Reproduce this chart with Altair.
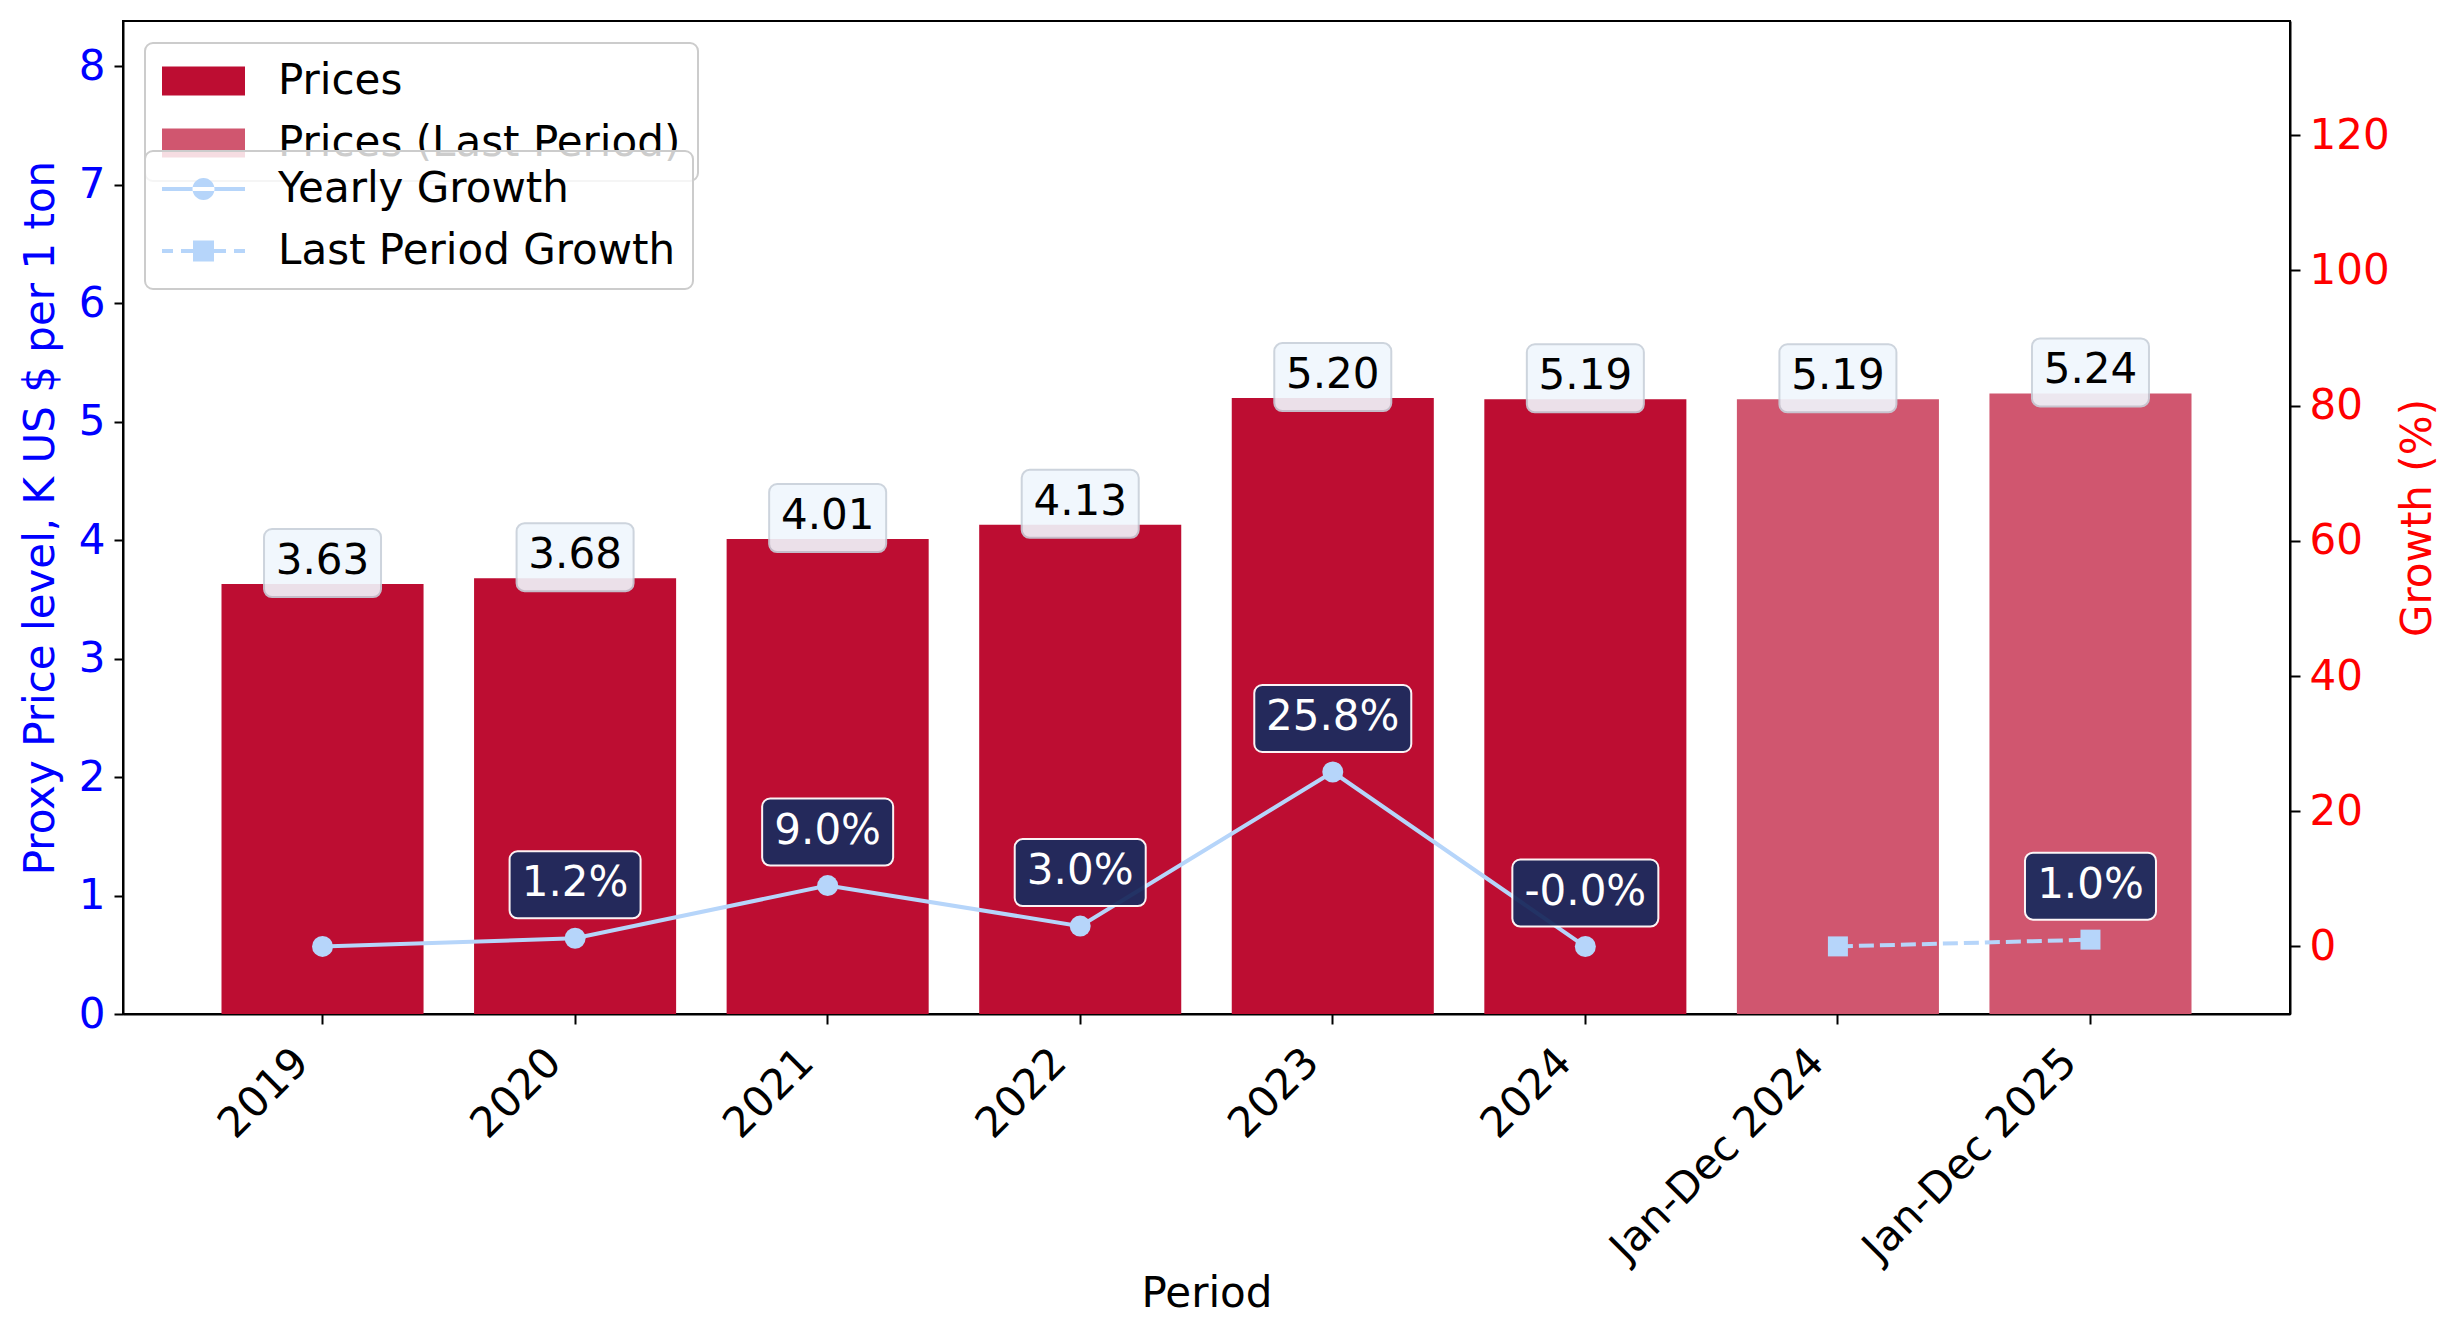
import altair as alt
import pandas as pd

# ---------------- data ----------------
periods = ["2019", "2020", "2021", "2022", "2023", "2024", "Jan-Dec 2024", "Jan-Dec 2025"]
prices = [3.63, 3.68, 4.01, 4.13, 5.20, 5.19, 5.19, 5.24]
price_types = ["Prices"] * 6 + ["Prices (Last Period)"] * 2
growth = [0.0, 1.2, 9.0, 3.0, 25.8, -0.02, 0.0, 1.0]
growth_series = ["Yearly Growth"] * 6 + ["Last Period Growth"] * 2
growth_labels = ["", "1.2%", "9.0%", "3.0%", "25.8%", "-0.0%", "", "1.0%"]

# ---------------- style ----------------
FONT = "DejaVu Sans"
FS = 42
BAR = "#BD0D32"
BAR_LAST = "#D0566F"
LINE = "#B6D5FA"
NAVY = "#1C2B5E"
W, H = 2167, 993

ADV = {"0": .636, "1": .636, "2": .636, "3": .636, "4": .636, "5": .636, "6": .636,
       "7": .636, "8": .636, "9": .636, ".": .318, "%": .950, "-": .361}


def box_w(s):
    return round(sum(ADV.get(c, .6) for c in s) * FS + 24)


# legend symbol geometry (pixels -> symbol units)
U = 20.0      # px per symbol unit (symbolSize = (2U)^2)
C = 21.0      # symbol centre within legend entry


def ux(v):
    return round((v - C) / U, 4)


def uy(v):
    return round(v / U, 4)


def rect_path(x0, x1, y0, y1):
    return f"M{ux(x0)},{uy(y0)}H{ux(x1)}V{uy(y1)}H{ux(x0)}Z"


SWATCH = rect_path(0, 83, -14.5, 14.5)
r = 11.0
circ = (f"M{ux(41.5 - r)},0A{uy(r)},{uy(r)} 0 1,0 {ux(41.5 + r)},0"
        f"A{uy(r)},{uy(r)} 0 1,0 {ux(41.5 - r)},0Z")
SYM_YEARLY = rect_path(0, 83, -2, 2) + circ
SYM_LAST = (rect_path(0, 11, -2, 2) + rect_path(19, 31.5, -2, 2) + rect_path(51.5, 64, -2, 2)
            + rect_path(72, 83, -2, 2) + rect_path(31, 52, -10.5, 10.5))

df = pd.DataFrame({
    "Period": periods,
    "Price": prices,
    "PriceType": price_types,
    "PriceLabel": [f"{p:.2f}" for p in prices],
    "Growth": growth,
    "Series": growth_series,
    "GrowthLabel": growth_labels,
})

x_enc = alt.X(
    "Period:N", sort=periods,
    scale=alt.Scale(paddingInner=0.2, paddingOuter=0.39),
    axis=alt.Axis(title="Period", labelAngle=315, labelAlign="right", labelBaseline="top",
                  labelPadding=17, labelOffset=-35, tickSize=10, labelLimit=1000,
                  labelOverlap=False, titleX=W / 2, titleY=279, titleBaseline="middle",
                  titleAlign="center"),
)

y_left = alt.Y(
    "Price:Q",
    scale=alt.Scale(domain=[0, 8.384], nice=False, zero=True),
    axis=alt.Axis(title="Proxy Price level, K US $ per 1 ton", values=list(range(9)), format="d",
                  labelColor="#0000FF", titleColor="#0000FF", labelPadding=9, tickSize=9,
                  titleX=-83, titleY=H / 2, titleAngle=270, titleBaseline="middle",
                  titleAlign="center"),
)

y_right = alt.Y(
    "Growth:Q",
    scale=alt.Scale(domain=[-10, 136.9], nice=False, zero=False),
    axis=alt.Axis(orient="right", title="Growth (%)", values=[0, 20, 40, 60, 80, 100, 120],
                  labelColor="#FF0000", titleColor="#FF0000", labelPadding=9, tickSize=10,
                  titleX=127, titleY=H / 2, titleAngle=270, titleBaseline="middle",
                  titleAlign="center"),
)

legend_common = dict(title=None, orient="none", legendX=22, labelFont=FONT, labelFontSize=FS,
                     labelColor="black", labelLimit=1000, rowPadding=20, padding=17,
                     fillColor="rgba(255,255,255,0.8)", strokeColor="#CCCCCC", cornerRadius=8,
                     symbolSize=int((2 * U) ** 2), labelOffset=74)

has_label = "isValid(datum.GrowthLabel) && length(datum.GrowthLabel) > 0"

base = alt.Chart(df)

bars = base.mark_bar().encode(
    x=x_enc, y=y_left,
    color=alt.Color("PriceType:N",
                    scale=alt.Scale(domain=["Prices", "Prices (Last Period)"], range=[BAR, BAR_LAST]),
                    legend=alt.Legend(legendY=22, symbolType=SWATCH, symbolStrokeWidth=0,
                                      **legend_common)),
)

pbox = base.mark_bar(width=box_w("0.00"), yOffset=-55, y2Offset=13, cornerRadius=8,
                     fill="#F0F7FD", stroke="#C8D0DA", strokeWidth=2, opacity=0.9).encode(
    x=x_enc, y=y_left, y2="Price:Q")

ptext = base.mark_text(font=FONT, fontSize=FS, color="black", baseline="middle", dy=-23).encode(
    x=x_enc, y=y_left, text="PriceLabel:N")

left = alt.layer(bars, pbox, ptext)

line_y = base.transform_filter(alt.datum.Series == "Yearly Growth").mark_line(
    color=LINE, strokeWidth=4).encode(x=x_enc, y=y_right)
line_l = base.transform_filter(alt.datum.Series == "Last Period Growth").mark_line(
    color=LINE, strokeWidth=4, strokeDash=[15, 6]).encode(x=x_enc, y=y_right)
pts_y = base.transform_filter(alt.datum.Series == "Yearly Growth").mark_point(
    shape="circle", filled=True, size=441, color=LINE, opacity=1).encode(x=x_enc, y=y_right)
pts_l = base.transform_filter(alt.datum.Series == "Last Period Growth").mark_point(
    shape="square", filled=True, size=400, color=LINE, opacity=1).encode(x=x_enc, y=y_right)

legend_pts = base.mark_point(filled=True, opacity=0, color=LINE, size=1).encode(
    x=x_enc, y=y_right,
    shape=alt.Shape("Series:N",
                    scale=alt.Scale(domain=["Yearly Growth", "Last Period Growth"],
                                    range=[SYM_YEARLY, SYM_LAST]),
                    legend=alt.Legend(legendY=130, symbolOpacity=1, symbolFillColor=LINE,
                                      symbolStrokeWidth=0, **legend_common)),
)

gboxes = []
labelled = [g for g in growth_labels if g]
for wv in sorted(set(box_w(g) for g in labelled)):
    group = [g for g in labelled if box_w(g) == wv]
    gboxes.append(
        base.transform_filter(alt.FieldOneOfPredicate(field="GrowthLabel", oneOf=group))
        .mark_bar(width=wv, yOffset=-87, y2Offset=-20, cornerRadius=8, fill=NAVY,
                  stroke="white", strokeWidth=2, opacity=0.95)
        .encode(x=x_enc, y=y_right, y2="Growth:Q")
    )

gtext = base.transform_filter(has_label).mark_text(
    font=FONT, fontSize=FS, color="white", baseline="middle", dy=-55).encode(
    x=x_enc, y=y_right, text="GrowthLabel:N")

right = alt.layer(line_y, line_l, pts_y, pts_l, legend_pts, *gboxes, gtext)

chart = (
    alt.layer(left, right)
    .resolve_scale(y="independent")
    .properties(width=W, height=H, padding={"left": 10, "top": 13, "right": 5, "bottom": 5},
                background="white")
    .configure_view(stroke="black", strokeWidth=2)
    .configure_axis(domainColor="black", domainWidth=2, tickColor="black", tickWidth=2,
                    labelFont=FONT, labelFontSize=FS, titleFont=FONT, titleFontSize=FS,
                    titleFontWeight="normal", titleColor="black", labelColor="black", grid=False)
    .configure_legend(strokeWidth=2)
)

chart.save("out.html", embed_options={"renderer": "svg", "actions": False})
